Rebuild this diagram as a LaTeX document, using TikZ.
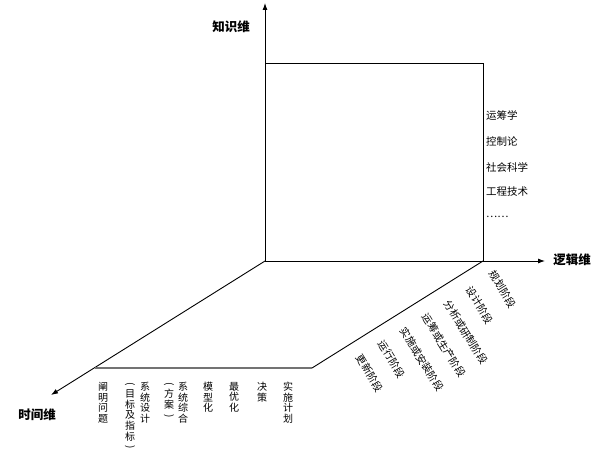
\documentclass[tikz,border=0pt]{standalone}
\usepackage{fontspec}
\newfontfamily\cjk{Noto Sans CJK SC}
\usetikzlibrary{arrows.meta}
\newcommand{\vpo}{\rotatebox[origin=c]{-90}{(}}
\newcommand{\vpc}{\rotatebox[origin=c]{-90}{)}}
\tikzset{
  axis/.style={line width=0.9pt, -{Latex[length=7pt,width=5pt]}},
  edge/.style={line width=0.9pt},
  base/.style={line width=1.6pt, draw=black!55},
  axlabel/.style={font=\cjk\bfseries\fontsize{12.5}{14}\selectfont, inner sep=0pt},
  knowl/.style={font=\cjk\fontsize{10.5}{12}\selectfont, anchor=west, inner sep=0pt},
  stage/.style={font=\cjk\fontsize{10.3}{12}\selectfont, rotate=-58, anchor=north west, inner sep=0pt},
  vcol/.style={font=\cjk\fontsize{10}{10.6}\selectfont, align=center, anchor=north, inner sep=0pt}
}
\begin{document}
\begin{tikzpicture}[x=1pt,y=-1pt]
\useasboundingbox (0,0) rectangle (596,457);
\fill[white] (0,0) rectangle (596,457);
% key points
\coordinate (O) at (265,261);
\coordinate (Ktip) at (265,3);
\coordinate (Ltip) at (545,261);
\coordinate (Ttip) at (51,395);
\coordinate (R1) at (265,63);
\coordinate (R2) at (483,63);
\coordinate (R3) at (483,261);
\coordinate (B1) at (95,368);
\coordinate (B2) at (312,368);
% axes
\draw[axis] (O) -- (Ktip);
\draw[axis] (O) -- (Ltip);
\draw[axis] (O) -- (Ttip);
% box and plane
\draw[edge] (R1) -- (R2) -- (R3);
\draw[base] (B1) -- (B2);
\draw[edge] (B2) -- (R3);
% axis labels
\node[axlabel] (kl) at (231,27) {知识维};
\node[axlabel] (ll) at (572,260) {逻辑维};
\node[axlabel] (tl) at (37,415) {时间维};
% knowledge list
\node[knowl] (k1) at (486,115) {运筹学};
\node[knowl] (k2) at (486,141) {控制论};
\node[knowl] (k3) at (486,167) {社会科学};
\node[knowl] (k4) at (486,192) {工程技术};
\node[knowl] (k5) at (486,217) {……};
% logic stages
\node[stage] (s1) at (496,269) {规划阶段};
\node[stage] (s2) at (473,285) {设计阶段};
\node[stage] (s3) at (451,299) {分析或研制阶段};
\node[stage] (s4) at (429,312) {运筹或生产阶段};
\node[stage] (s5) at (407,326) {实施或安装阶段};
\node[stage] (s6) at (385,339) {运行阶段};
\node[stage] (s7) at (363,353) {更新阶段};
% time steps
\node[vcol] (t1) at (103,382) {阐\\明\\问\\题};
\node[vcol] (t2a) at (130,382) {\vpo\\目\\标\\及\\指\\标\\\vpc};
\node[vcol] (t2) at (145,382) {系\\统\\设\\计};
\node[vcol] (t3a) at (169,382) {\vpo\\方\\案\\\vpc};
\node[vcol] (t3) at (183,382) {系\\统\\综\\合};
\node[vcol] (t4) at (208,382) {模\\型\\化};
\node[vcol] (t5) at (234,382) {最\\优\\化};
\node[vcol] (t6) at (262,382) {决\\策};
\node[vcol] (t7) at (288,382) {实\\施\\计\\划};
\end{tikzpicture}
\end{document}
